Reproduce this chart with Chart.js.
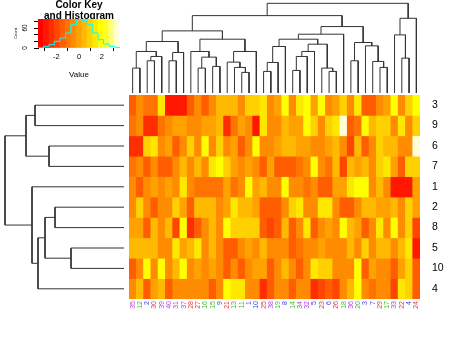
<!DOCTYPE html>
<html>
<head>
<meta charset="utf-8">
<script src="https://cdn.jsdelivr.net/npm/chart.js@4"></script>
<style>
  html, body { margin: 0; padding: 0; background: #fff; }
  #wrap { position: relative; width: 474px; height: 353px; overflow: hidden; }
  .box { position: absolute; }
  canvas { display: block; }
</style>
</head>
<body>
<div id="wrap">
  <div class="box" style="left:0;top:0"><canvas id="keyChart" width="125" height="88"></canvas></div>
  <div class="box" style="left:129px;top:0"><canvas id="colDendro" width="291" height="93"></canvas></div>
  <div class="box" style="left:0;top:95px"><canvas id="rowDendro" width="124" height="204"></canvas></div>
  <div class="box" style="left:129px;top:95px"><canvas id="heatChart" width="345" height="258"></canvas></div>
</div>
<script>
// row / column order as printed (after clustering)
const rowLabels = ['3', '9', '6', '7', '1', '2', '8', '5', '10', '4'];
const colLabels = ['35', '12', '2', '30', '39', '40', '31', '37', '28', '27', '16', '15', '9', '21', '13', '11', '1', '10', '25', '38',
                   '19', '8', '14', '34', '32', '5', '23', '6', '26', '18', '36', '20', '3', '7', '29', '17', '33', '22', '4', '24'];

// cell values, one array per row (top to bottom)
const row3 = [-1.4, -0.5, -1.0, -1.0, 1.4, -2.9, -2.9, -2.9, -1.4, -0.5, -1.4, -0.5, 0.5, 0.5, 0.5, -0.5, 1.0, 1.0, 1.4, -0.5,
              0.0, 1.9, -0.5, 1.4, 1.9, 0.0, 1.9, -0.5, 0.0, 1.0, -0.5, 1.4, -1.4, -1.4, -0.5, 0.0, 1.9, -0.5, 1.0, 1.9];
const row9 = [-1.0, -0.5, -2.4, -2.4, -1.0, -0.5, 0.0, 0.0, -0.5, -0.5, 0.0, 0.0, 0.5, -2.4, -1.0, 0.0, -0.5, -2.9, 1.4, -0.5,
              -0.5, 0.5, 0.0, 0.0, 1.9, 1.0, -0.5, 1.0, 1.4, 3.4, -1.4, -1.0, 1.9, 0.5, 1.0, 1.0, -0.5, 1.4, -0.5, 1.0];
const row6 = [-2.4, -2.4, 1.0, 1.4, -0.5, 0.0, -1.4, -0.5, 1.0, -0.5, 1.9, -0.5, 1.0, -0.5, 0.0, -1.4, -0.5, 1.9, -0.5, -0.5,
              0.0, 0.5, 0.5, 0.0, 0.0, -0.5, -0.5, 0.0, 0.5, -0.5, -1.9, 0.5, -1.4, -0.5, 1.0, 0.5, 0.5, -0.5, -0.5, 3.4];
const row7 = [-1.0, -0.5, -1.4, -0.5, -1.4, -1.4, -0.5, 0.5, -0.5, 0.5, -0.5, 1.4, 1.9, 1.0, 0.0, -0.5, 0.0, -0.5, -1.4, 0.0,
              -1.4, -1.4, -1.4, -1.0, -0.5, 1.9, -0.5, -1.0, 0.5, -1.9, 0.5, 0.0, 0.5, -0.5, 1.0, 1.4, 0.0, -1.4, 1.0, 1.0];
const row1 = [-0.5, -1.4, -0.5, 0.0, -0.5, 0.0, -0.5, 1.4, -0.5, -1.0, -1.0, -1.0, -1.0, 0.0, -1.0, -0.5, 1.9, 0.0, 0.5, -0.5,
              -0.5, 1.9, -0.5, -0.5, -1.0, -0.5, -1.4, -1.4, 0.0, 0.0, 1.4, 1.9, 1.9, -0.5, 0.5, -0.5, -2.9, -2.9, -2.9, 0.0];
const row2 = [-0.5, 1.0, -0.5, -1.4, -0.5, -0.5, 1.0, 0.0, -1.4, 0.5, 0.5, 0.5, -0.5, 0.0, 1.4, 0.5, 0.5, 0.0, -1.4, -1.4,
              -1.4, -0.5, 1.0, 1.4, -0.5, -0.5, 1.4, 1.4, -0.5, -1.4, -1.4, -0.5, 0.5, 0.5, 0.0, 0.0, 0.5, -0.5, 1.0, 0.0];
const row8 = [0.0, 0.0, -1.4, 0.5, -0.5, 0.5, -1.9, 1.9, -2.4, -1.4, -0.5, 0.5, -0.5, 1.9, 1.0, 1.0, 1.0, 1.0, -1.4, -1.9,
              -1.4, 0.5, -1.4, -0.5, 1.4, -1.4, -0.5, 0.0, -0.5, 1.9, 0.5, 0.0, -1.4, -0.5, 1.4, -0.5, 1.9, -0.5, 1.0, -1.9];
const row5 = [0.5, 0.5, 0.5, 0.5, -0.5, -0.5, 1.4, 0.0, 0.5, 1.4, -0.5, 0.5, -0.5, -1.4, -1.4, -0.5, 0.0, -0.5, 0.5, -0.5,
              -0.5, -0.5, -1.4, -1.0, -0.5, -0.5, 0.0, -0.5, -0.5, -0.5, 0.5, -0.5, 1.0, -0.5, 0.5, 0.5, -0.5, 0.5, 1.4, -2.9];
const row10 = [-1.4, -0.5, 1.9, -0.5, 1.9, -0.5, 0.5, 1.9, -0.5, 0.0, -0.5, 0.0, -0.5, -1.4, -0.5, -1.4, -0.5, 0.0, 0.0, -1.4,
               -0.5, 0.5, -0.5, -1.4, -0.5, 1.4, 1.0, 1.0, -0.5, -0.5, -0.5, 1.9, -1.4, 0.0, -0.5, -0.5, -1.4, 0.0, 1.0, -1.4];
const row4 = [-0.5, 0.5, -1.4, 0.0, 0.5, -1.4, -0.5, -0.5, -0.5, -0.5, -0.5, -1.4, -0.5, 1.9, 1.4, 1.4, -0.5, -0.5, -2.4, -1.4,
              -0.5, -0.5, -1.4, -0.5, -0.5, -2.4, -1.9, -1.4, -1.9, -0.5, 0.5, 1.9, -0.5, -1.0, -0.5, -0.5, -1.9, 1.4, 1.0, -1.4];
const heatRows = [row3, row9, row6, row7, row1, row2, row8, row5, row10, row4];

// dendrograms: [left, right, height]; negative = leaf position (1-based), positive = earlier merge
const colMerges = [
  [-1, -2, 75], [-3, -4, 97], [2, -5, 110], [1, 3, 125], [-6, -7, 97], [5, -8, 122], [4, 6, 155],
  [-10, -11, 75], [-12, -13, 80], [8, 9, 108], [-9, 10, 125], [-16, -17, 62], [-15, 12, 77], [-14, 13, 93],
  [14, -18, 125], [11, 15, 162], [7, 16, 187], [-19, -20, 65], [18, -21, 92], [19, -22, 140], [-23, -24, 68],
  [21, -25, 110], [22, -26, 125], [-28, -29, 65], [-27, 24, 75], [23, 25, 147], [20, 26, 162], [27, -30, 177],
  [-31, -32, 97], [-35, -36, 77], [-34, 30, 95], [-33, 31, 142], [29, 32, 152], [28, 33, 200], [17, 34, 233],
  [-38, -39, 105], [-37, 36, 175], [37, -40, 225], [35, 38, 270]
];
const rowMerges = [
  [-1, -2, 89], [-3, -4, 75], [1, 2, 98], [-6, -7, 69], [-8, -9, 53], [4, 5, 79], [6, -10, 86], [-5, 7, 92], [3, 8, 119]
];

// colour key
const keyBreaks = [-3.6, -3.12, -2.64, -2.16, -1.68, -1.2, -0.72, -0.24, 0.24, 0.72, 1.2, 1.68, 2.16, 2.64, 3.12, 3.6];
const heatColors = ['#FF0000', '#FF1700', '#FF2E00', '#FF4600', '#FF5D00', '#FF7400', '#FF8B00', '#FFA200',
                    '#FFB900', '#FFD100', '#FFE800', '#FFFF00', '#FFFF2B', '#FFFF80', '#FFFFD5'];
const histCounts = [0, 5, 10, 20, 30, 45, 70, 85, 82, 70, 45, 25, 12, 5, 2];
const keyTicks = [-2, 0, 2];
const countTicks = [0, 20, 40, 60, 80];
const countLabels = [0, 60];
const keyTop = 87;

const labelGroupColors = ['#3c3cf0', '#40b830', '#f03434', '#b040e0'];

Chart.defaults.font.family = "'Liberation Sans', Arial, sans-serif";
Chart.defaults.color = '#000';
Chart.defaults.animation = false;
Chart.defaults.plugins.legend.display = false;
Chart.defaults.plugins.tooltip.enabled = false;

function heatColor(v) {
  for (let i = 0; i < heatColors.length; i++) {
    if (v < keyBreaks[i + 1]) return heatColors[i];
  }
  return heatColors[heatColors.length - 1];
}

function labelColor(lbl) {
  return labelGroupColors[Math.floor((Number(lbl) - 1) / 10)];
}

// turn merges into polyline points, null breaks the line between merges
function dendroPoints(merges) {
  const nodes = [];
  const pts = [];
  const ref = k => (k < 0 ? { pos: -k - 1, h: 0 } : nodes[k - 1]);
  merges.forEach(([a, b, h]) => {
    const l = ref(a), r = ref(b);
    pts.push([l.pos, l.h], [l.pos, h], [r.pos, h], [r.pos, r.h], null);
    nodes.push({ pos: (l.pos + r.pos) / 2, h: h });
  });
  return pts;
}

const hidden = { display: false };
const dendroStyle = {
  showLine: true, borderColor: '#333', borderWidth: 1, pointRadius: 0, tension: 0, clip: false
};

// top (column) dendrogram
new Chart(document.getElementById('colDendro'), {
  type: 'scatter',
  data: {
    datasets: [{
      ...dendroStyle,
      data: dendroPoints(colMerges).map(p => (p ? { x: p[0], y: p[1] } : { x: null, y: null }))
    }]
  },
  options: {
    responsive: false,
    layout: { padding: 0 },
    scales: {
      x: { ...hidden, min: -0.5, max: colLabels.length - 0.5 },
      y: { ...hidden, min: 0, max: 280 }
    }
  }
});

// left (row) dendrogram
new Chart(document.getElementById('rowDendro'), {
  type: 'scatter',
  data: {
    datasets: [{
      ...dendroStyle,
      data: dendroPoints(rowMerges).map(p => (p ? { x: p[1], y: p[0] } : { x: null, y: null }))
    }]
  },
  options: {
    responsive: false,
    layout: { padding: 0 },
    scales: {
      x: { ...hidden, min: 0, max: 124, reverse: true },
      y: { ...hidden, min: -0.5, max: rowLabels.length - 0.5, reverse: true }
    }
  }
});

// heatmap: one floating bar per cell
new Chart(document.getElementById('heatChart'), {
  type: 'bar',
  data: {
    labels: colLabels,
    datasets: heatRows.map((vals, i) => ({
      data: vals.map(() => [rowLabels.length - 1 - i, rowLabels.length - i]),
      backgroundColor: vals.map(heatColor),
      borderWidth: 0,
      barPercentage: 1,
      categoryPercentage: 1,
      grouped: false
    }))
  },
  options: {
    responsive: false,
    layout: { padding: 0 },
    scales: {
      x: {
        grid: { display: false, drawTicks: false },
        border: { display: false },
        ticks: {
          autoSkip: false,
          minRotation: 90,
          maxRotation: 90,
          padding: 2,
          font: { size: 7 },
          color: ctx => labelColor(colLabels[ctx.index])
        },
        afterFit: s => { s.height = 54; s.paddingLeft = 0; s.paddingRight = 0; }
      },
      y: {
        position: 'right',
        min: 0,
        max: rowLabels.length,
        grid: { display: false, drawTicks: false },
        border: { display: false },
        afterBuildTicks: s => { s.ticks = rowLabels.map((_, i) => ({ value: i + 0.5 })); },
        ticks: {
          padding: 12,
          font: { size: 10.5 },
          callback: v => rowLabels[rowLabels.length - 1 - Math.floor(v)]
        },
        afterFit: s => { s.width = 54; s.paddingTop = 0; s.paddingBottom = 0; }
      }
    }
  }
});

// colour key with histogram
new Chart(document.getElementById('keyChart'), {
  type: 'bar',
  data: {
    datasets: [
      {
        type: 'line',
        data: keyBreaks.map((b, i) => ({ x: b, y: histCounts[Math.min(i, histCounts.length - 1)] })),
        borderColor: 'cyan',
        borderWidth: 1,
        pointRadius: 0,
        stepped: true,
        order: 0
      },
      {
        type: 'bar',
        data: heatColors.map((c, i) => ({ x: (keyBreaks[i] + keyBreaks[i + 1]) / 2, y: [0, keyTop] })),
        backgroundColor: heatColors,
        borderWidth: 0,
        barPercentage: 1,
        categoryPercentage: 1,
        order: 1
      }
    ]
  },
  options: {
    responsive: false,
    layout: { padding: { right: 5 } },
    plugins: {
      title: {
        display: true,
        fullSize: false,
        text: ['Color Key', 'and Histogram'],
        color: '#000',
        font: { size: 10, weight: 'bold', lineHeight: 1.1 },
        padding: { top: 0, bottom: -3 }
      }
    },
    scales: {
      x: {
        type: 'linear',
        min: keyBreaks[0],
        max: keyBreaks[keyBreaks.length - 1],
        offset: false,
        grid: { drawOnChartArea: false, tickLength: 3, color: '#000' },
        border: { display: false },
        afterBuildTicks: s => { s.ticks = keyTicks.map(v => ({ value: v })); },
        ticks: { padding: 1, font: { size: 7.5 } },
        title: { display: true, text: 'Value', font: { size: 8 }, padding: { top: 0, bottom: 8 } },
        afterFit: s => { s.height = 40; s.paddingLeft = 0; s.paddingRight = 0; }
      },
      y: {
        min: 0,
        max: keyTop,
        grid: { drawOnChartArea: false, tickLength: 4, color: '#000' },
        border: { display: true, color: '#000' },
        afterBuildTicks: s => { s.ticks = countTicks.map(v => ({ value: v })); },
        ticks: {
          autoSkip: false,
          minRotation: 90,
          maxRotation: 90,
          crossAlign: 'center',
          padding: 5,
          font: { size: 6.5 },
          callback: v => (countLabels.includes(v) ? String(v) : '')
        },
        title: { display: true, text: 'Count', font: { size: 4 }, padding: { top: 13, bottom: 0 } },
        afterFit: s => { s.width = 38; s.paddingTop = 0; s.paddingBottom = 0; }
      }
    }
  }
});
</script>
</body>
</html>
